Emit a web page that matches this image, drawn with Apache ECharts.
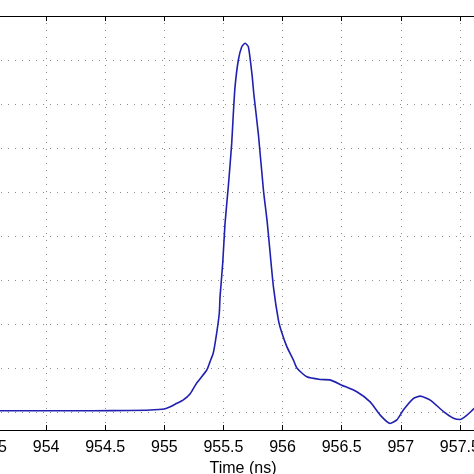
<!DOCTYPE html>
<html><head><meta charset="utf-8">
<script src="https://cdn.jsdelivr.net/npm/echarts@6/dist/echarts.min.js"></script>
<style>html,body{margin:0;padding:0;background:#fff}#c{width:474px;height:474px}</style>
</head><body><div id="c"></div>
<script>
// Time axis (ns)
const timeNs = [953.5, 953.8, 954.1, 954.4, 954.7, 954.88, 955.0, 955.05, 955.107, 955.158, 955.217, 955.274, 955.358, 955.386, 955.414, 955.443, 955.465, 955.471, 955.494, 955.513, 955.541, 955.570, 955.584, 955.598, 955.626, 955.655, 955.683, 955.711, 955.742, 955.758, 955.796, 955.838, 955.870, 955.895, 955.923, 955.965, 955.994, 956.037, 956.092, 956.121, 956.205, 956.318, 956.402, 956.501, 956.628, 956.741, 956.826, 956.910, 956.967, 957.023, 957.108, 957.164, 957.249, 957.362, 957.446, 957.503, 957.560, 957.622, 957.66];
// Signal amplitude (arbitrary units, one grid step = 1)
const signal = [0.03, 0.03, 0.03, 0.03, 0.035, 0.045, 0.07, 0.12, 0.20, 0.27, 0.41, 0.66, 0.95, 1.14, 1.34, 1.80, 2.25, 2.61, 3.39, 4.27, 5.12, 6.11, 6.80, 7.39, 8.0, 8.30, 8.38, 8.30, 7.66, 7.20, 6.30, 5.05, 4.32, 3.61, 2.84, 2.09, 1.80, 1.48, 1.18, 1.0, 0.80, 0.74, 0.73, 0.61, 0.46, 0.23, -0.07, -0.26, -0.18, 0.05, 0.31, 0.36, 0.27, 0.01, -0.14, -0.17, -0.07, 0.08, 0.15];
const xTicks = [953.5, 954, 954.5, 955, 955.5, 956, 956.5, 957, 957.5, 958];
const xTitle = 'Time (ns)';

const chart = echarts.init(document.getElementById('c'), null, {renderer: 'canvas'});
const gridDots = {show: true, lineStyle: {color: '#8c8c8c', width: 1, type: [1, 6]}};
const font = 'Liberation Sans, Arial, Helvetica, sans-serif';
chart.setOption({
  animation: false,
  backgroundColor: '#fff',
  grid: {left: -13, right: -45, top: 16, bottom: 44, containLabel: false, outerBoundsMode: 'none'},
  xAxis: [{
    type: 'value', min: xTicks[0], max: xTicks[xTicks.length - 1], interval: 0.5,
    position: 'bottom',
    axisLine: {show: true, onZero: false, lineStyle: {color: '#000', width: 1}},
    axisTick: {show: true, inside: true, length: 5, lineStyle: {color: '#000'}},
    axisLabel: {show: true, color: '#000', fontSize: 16, fontFamily: font, margin: 10},
    splitLine: gridDots,
    name: xTitle, nameLocation: 'middle', nameGap: 23,
    nameTextStyle: {color: '#000', fontSize: 16, fontFamily: font, padding: [0, 20, 0, 0]}
  }, {
    type: 'value', min: xTicks[0], max: xTicks[xTicks.length - 1], interval: 0.5,
    position: 'top',
    axisLine: {show: true, onZero: false, lineStyle: {color: '#000', width: 1}},
    axisTick: {show: true, inside: true, length: 5, lineStyle: {color: '#000'}},
    axisLabel: {show: false}, splitLine: {show: false}
  }],
  yAxis: [{
    type: 'value', min: -0.409, max: 9, minInterval: 1, maxInterval: 1,
    axisLine: {show: true, onZero: false, lineStyle: {color: '#000'}},
    axisTick: {show: true, inside: true, length: 5},
    axisLabel: {show: false},
    splitLine: gridDots
  }],
  series: [{
    type: 'line', xAxisIndex: 0, yAxisIndex: 0,
    data: timeNs.map((t, i) => [t, signal[i]]),
    showSymbol: false, smooth: 0.2,
    lineStyle: {color: '#2020b0', width: 1.6},
    clip: true
  }]
});
</script></body></html>
